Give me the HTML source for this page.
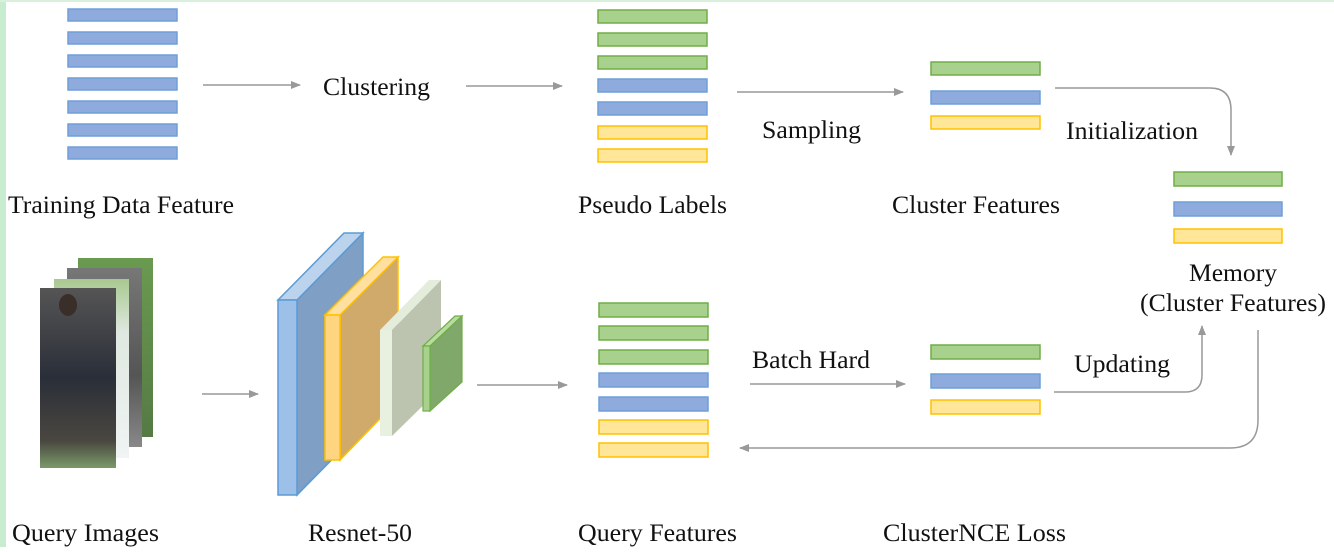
<!DOCTYPE html>
<html><head><meta charset="utf-8"><style>
body{margin:0;background:#fff;}
svg text{font-family:"Liberation Serif",serif;font-size:25px;fill:#111;}
</style></head><body>
<svg width="1334" height="547" viewBox="0 0 1334 547" xmlns="http://www.w3.org/2000/svg">
<defs>
<marker id="a" markerWidth="10" markerHeight="10" refX="9" refY="5" orient="auto" markerUnits="userSpaceOnUse"><path d="M0,1 L10,5 L0,9z" fill="#999"/></marker>
<linearGradient id="p1" x1="0" y1="0" x2="0" y2="1"><stop offset="0" stop-color="#555"/><stop offset=".5" stop-color="#2a2e38"/><stop offset=".85" stop-color="#4a4740"/><stop offset="1" stop-color="#7a9a6a"/></linearGradient>
<linearGradient id="p2" x1="0" y1="0" x2="0" y2="1"><stop offset="0" stop-color="#a8c890"/><stop offset=".3" stop-color="#dfe8e0"/><stop offset="1" stop-color="#f0f4f4"/></linearGradient>
<linearGradient id="p3" x1="0" y1="0" x2="0" y2="1"><stop offset="0" stop-color="#777"/><stop offset=".6" stop-color="#555"/><stop offset="1" stop-color="#888"/></linearGradient>
<linearGradient id="p4" x1="0" y1="0" x2="0" y2="1"><stop offset="0" stop-color="#6a9a50"/><stop offset="1" stop-color="#557a45"/></linearGradient>
</defs>
<rect x="0" y="0" width="6" height="547" fill="#c8ecd0"/>
<rect x="0" y="0" width="1334" height="2" fill="#d8f0dc"/>
<g stroke-width="1.5">
<g fill="#8faadc" stroke="#6f9fd8">
<rect x="68" y="9" width="109" height="12"/><rect x="68" y="32" width="109" height="12"/><rect x="68" y="55" width="109" height="12"/><rect x="68" y="78" width="109" height="12"/><rect x="68" y="101" width="109" height="12"/><rect x="68" y="124" width="109" height="12"/><rect x="68" y="147" width="109" height="12"/>
</g>
<g fill="#a9d18e" stroke="#70ad47"><rect x="598" y="10" width="109" height="13"/><rect x="598" y="33" width="109" height="13"/><rect x="598" y="56" width="109" height="13"/></g>
<g fill="#8faadc" stroke="#6f9fd8"><rect x="598" y="79" width="109" height="13"/><rect x="598" y="102" width="109" height="13"/></g>
<g fill="#ffe699" stroke="#ffc000"><rect x="598" y="126" width="109" height="13"/><rect x="598" y="149" width="109" height="13"/></g>
<rect x="931" y="62" width="109" height="13" fill="#a9d18e" stroke="#70ad47"/>
<rect x="931" y="91" width="109" height="13" fill="#8faadc" stroke="#6f9fd8"/>
<rect x="931" y="116" width="109" height="13" fill="#ffe699" stroke="#ffc000"/>
<rect x="1174" y="172" width="108" height="14" fill="#a9d18e" stroke="#70ad47"/>
<rect x="1174" y="202" width="108" height="14" fill="#8faadc" stroke="#6f9fd8"/>
<rect x="1174" y="229" width="108" height="14" fill="#ffe699" stroke="#ffc000"/>
<g fill="#a9d18e" stroke="#70ad47"><rect x="599" y="303" width="109" height="14"/><rect x="599" y="326" width="109" height="14"/><rect x="599" y="350" width="109" height="14"/></g>
<g fill="#8faadc" stroke="#6f9fd8"><rect x="599" y="373" width="109" height="14"/><rect x="599" y="397" width="109" height="14"/></g>
<g fill="#ffe699" stroke="#ffc000"><rect x="599" y="420" width="109" height="14"/><rect x="599" y="443" width="109" height="14"/></g>
<rect x="931" y="345" width="109" height="14" fill="#a9d18e" stroke="#70ad47"/>
<rect x="931" y="374" width="109" height="14" fill="#8faadc" stroke="#6f9fd8"/>
<rect x="931" y="400" width="109" height="14" fill="#ffe699" stroke="#ffc000"/>
</g>
<g stroke="#999" stroke-width="1.5" fill="none" marker-end="url(#a)">
<line x1="203" y1="85" x2="300" y2="85"/>
<line x1="466" y1="86" x2="562" y2="86"/>
<line x1="737" y1="92" x2="903" y2="92"/>
<path d="M1055,88 H1210 Q1231,88 1231,110 V155"/>
<path d="M1054,392 H1185 Q1202,392 1202,375 V326"/>
<path d="M1258,330 V420 Q1258,448 1230,448 H740"/>
<line x1="750" y1="384" x2="905" y2="384"/>
<line x1="477" y1="385" x2="567" y2="385"/>
<line x1="202" y1="394" x2="258" y2="394"/>
</g>
<rect x="78" y="258" width="75" height="179" fill="url(#p4)"/>
<rect x="67" y="268" width="75" height="179" fill="url(#p3)"/>
<rect x="54" y="279" width="75" height="179" fill="url(#p2)"/>
<rect x="40" y="288" width="76" height="180" fill="url(#p1)"/>
<ellipse cx="68" cy="305" rx="9" ry="11" fill="#3a2e28"/>
<polygon points="297,300 363,233 363,428 297,495" fill="#7f9fc4" stroke="#5b9bd5" stroke-width="1.5"/>
<polygon points="278,300 297,300 363,233 344,233" fill="#bcd3ee" stroke="#5b9bd5" stroke-width="1.5"/>
<rect x="278" y="300" width="19" height="195" fill="#9dc0e8" stroke="#5b9bd5" stroke-width="1.5"/>
<polygon points="340,315 398,257 398,400 340,460" fill="#cfaa6a" stroke="#ffc000" stroke-width="1.5"/>
<polygon points="325,315 340,315 398,257 383,257" fill="#ffe0a0" stroke="#ffc000" stroke-width="1.5"/>
<rect x="325" y="315" width="15" height="145" fill="#ffd580" stroke="#ffc000" stroke-width="1.5"/>
<polygon points="392,330 441,280 441,388 392,436" fill="#bcc4b0"/>
<polygon points="380,330 392,330 441,280 429,280" fill="#e4ecdc"/>
<rect x="380" y="330" width="12" height="106" fill="#e8f0e0"/>
<polygon points="430,346 462,316 462,382 430,411" fill="#7fa86a" stroke="#70ad47" stroke-width="1.2"/>
<polygon points="423,346 430,346 462,316 455,316" fill="#b8dca0" stroke="#70ad47" stroke-width="1.2"/>
<rect x="423" y="346" width="7" height="65" fill="#a9d18e" stroke="#70ad47" stroke-width="1.2"/>
<g lengthAdjust="spacingAndGlyphs">
<text x="323" y="95" textLength="107" lengthAdjust="spacingAndGlyphs">Clustering</text>
<text x="762" y="138" textLength="99" lengthAdjust="spacingAndGlyphs">Sampling</text>
<text x="1066" y="139" textLength="132" lengthAdjust="spacingAndGlyphs">Initialization</text>
<text x="8" y="213" textLength="226" lengthAdjust="spacingAndGlyphs">Training Data Feature</text>
<text x="578" y="213" textLength="149" lengthAdjust="spacingAndGlyphs">Pseudo Labels</text>
<text x="892" y="213" textLength="168" lengthAdjust="spacingAndGlyphs">Cluster Features</text>
<text x="1189" y="281" textLength="88" lengthAdjust="spacingAndGlyphs">Memory</text>
<text x="1140" y="311" textLength="186" lengthAdjust="spacingAndGlyphs">(Cluster Features)</text>
<text x="752" y="368" textLength="118" lengthAdjust="spacingAndGlyphs">Batch Hard</text>
<text x="1074" y="372" textLength="96" lengthAdjust="spacingAndGlyphs">Updating</text>
<text x="12" y="541" textLength="147" lengthAdjust="spacingAndGlyphs">Query Images</text>
<text x="308" y="541" textLength="104" lengthAdjust="spacingAndGlyphs">Resnet-50</text>
<text x="578" y="541" textLength="159" lengthAdjust="spacingAndGlyphs">Query Features</text>
<text x="883" y="541" textLength="183" lengthAdjust="spacingAndGlyphs">ClusterNCE Loss</text>
</g>
</svg>
</body></html>
